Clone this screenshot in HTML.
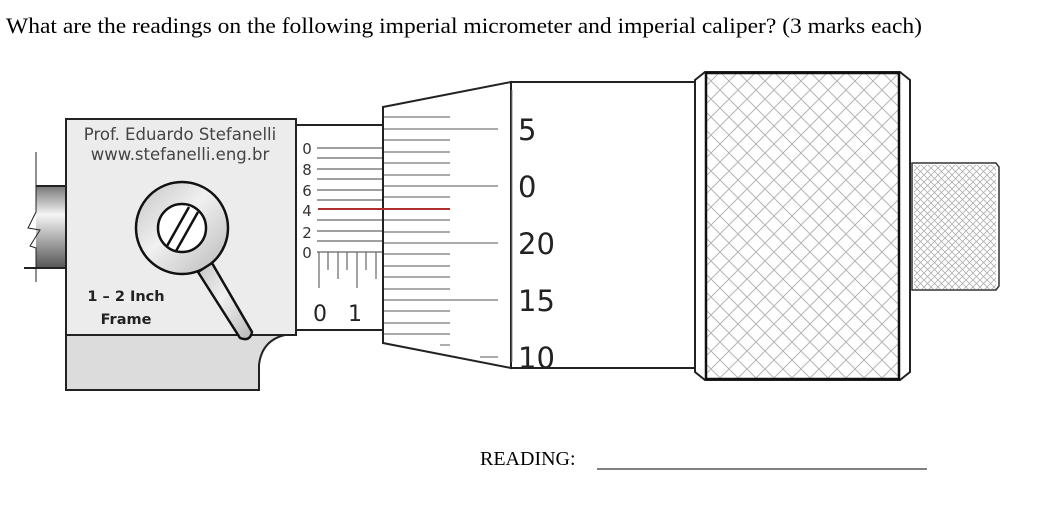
<!DOCTYPE html>
<html><head><meta charset="utf-8"><style>
html,body{margin:0;padding:0;background:#fff;width:1046px;height:508px;overflow:hidden}
svg{display:block}
</style></head><body>
<svg width="1046" height="508" viewBox="0 0 1046 508" xmlns="http://www.w3.org/2000/svg">
<defs>
<linearGradient id="sp" x1="0" y1="0" x2="0" y2="1">
<stop offset="0" stop-color="#777"/><stop offset="0.35" stop-color="#f4f4f4"/><stop offset="1" stop-color="#555"/>
</linearGradient>
<linearGradient id="rg" x1="0" y1="0" x2="1" y2="1">
<stop offset="0" stop-color="#c4c4c4"/><stop offset="0.45" stop-color="#f0f0f0"/><stop offset="1" stop-color="#b8b8b8"/>
</linearGradient>
<pattern id="kn" width="18" height="18" patternUnits="userSpaceOnUse">
<path d="M0 0 L18 18 M18 0 L0 18" stroke="#b5b5b5" stroke-width="1" fill="none"/>
</pattern>
<pattern id="kn2" width="7" height="7" patternUnits="userSpaceOnUse">
<path d="M0 0 L7 7 M7 0 L0 7" stroke="#b0b0b0" stroke-width="0.8" fill="none"/>
</pattern>
<clipPath id="th"><rect x="511" y="83" width="183" height="284"/></clipPath>
</defs>

<text x="6" y="33" font-family="Liberation Serif, serif" font-size="22" textLength="916" lengthAdjust="spacingAndGlyphs">What are the readings on the following imperial micrometer and imperial caliper? (3 marks each)</text>

<rect x="36" y="186" width="31" height="82" fill="url(#sp)"/>
<line x1="36" y1="186" x2="67" y2="186" stroke="#222" stroke-width="2"/>
<line x1="24" y1="268" x2="67" y2="268" stroke="#222" stroke-width="2"/>
<path d="M36 152 L36 212 L28 228 L40 230 L30 246 L36 248 L36 282" stroke="#222" stroke-width="1" fill="none"/>

<path d="M66 334 L66 390 L259 390 L259 365 Q262 338 290 334 Z" fill="#dcdcdc" stroke="#222" stroke-width="2"/>
<rect x="66" y="119" width="230" height="216" fill="#ececec" stroke="#222" stroke-width="2"/>
<text x="180" y="140" text-anchor="middle" font-family="DejaVu Sans, sans-serif" font-size="16.5" fill="#444">Prof. Eduardo Stefanelli</text>
<text x="180" y="160" text-anchor="middle" font-family="DejaVu Sans, sans-serif" font-size="16.5" fill="#444">www.stefanelli.eng.br</text>
<text x="126" y="301" text-anchor="middle" font-family="DejaVu Sans, sans-serif" font-size="14.5" font-weight="bold" fill="#222">1 – 2 Inch</text>
<text x="126" y="324" text-anchor="middle" font-family="DejaVu Sans, sans-serif" font-size="14.5" font-weight="bold" fill="#222">Frame</text>
<circle cx="182" cy="228" r="46" fill="url(#rg)" stroke="#111" stroke-width="2.5"/>
<circle cx="182" cy="228" r="24" fill="#fff" stroke="#111" stroke-width="2.5"/>
<line x1="167" y1="246" x2="189" y2="207" stroke="#111" stroke-width="2.5"/>
<line x1="176" y1="251" x2="198" y2="212" stroke="#111" stroke-width="2.5"/>
<path d="M198 272 L212 263 L252 332 Q250 342 240 338 Z" fill="url(#rg)" stroke="#111" stroke-width="2.5" stroke-linejoin="round"/>

<rect x="296" y="125" width="88" height="205" fill="#fff" stroke="#222" stroke-width="2"/>
<g font-family="DejaVu Sans, sans-serif" font-size="15" fill="#333" text-anchor="middle">
<text x="307" y="154">0</text><text x="307" y="175">8</text><text x="307" y="196">6</text>
<text x="307" y="216">4</text><text x="307" y="238">2</text><text x="307" y="258">0</text>
</g>
<g stroke="#666" stroke-width="1.2">
<line x1="317" y1="148" x2="384" y2="148"/><line x1="317" y1="158" x2="384" y2="158"/>
<line x1="317" y1="169" x2="384" y2="169"/><line x1="317" y1="179" x2="384" y2="179"/>
<line x1="317" y1="190" x2="384" y2="190"/><line x1="317" y1="200" x2="384" y2="200"/>
<line x1="317" y1="220" x2="384" y2="220"/><line x1="317" y1="231" x2="384" y2="231"/>
<line x1="317" y1="241" x2="384" y2="241"/><line x1="317" y1="252" x2="384" y2="252"/>
<line x1="319" y1="252" x2="319" y2="288"/><line x1="328" y1="252" x2="328" y2="270"/>
<line x1="338" y1="252" x2="338" y2="279"/><line x1="347" y1="252" x2="347" y2="270"/>
<line x1="357" y1="252" x2="357" y2="288"/><line x1="366" y1="252" x2="366" y2="270"/>
<line x1="376" y1="252" x2="376" y2="279"/>
</g>
<text x="320" y="321" text-anchor="middle" font-family="DejaVu Sans, sans-serif" font-size="22" fill="#222">0</text>
<text x="355" y="321" text-anchor="middle" font-family="DejaVu Sans, sans-serif" font-size="22" fill="#222">1</text>

<path d="M383 107 L511 82 L511 368 L383 343 Z" fill="#fff" stroke="#222" stroke-width="2"/>
<g stroke="#777" stroke-width="1.2">
<line x1="384" y1="117" x2="450" y2="117"/><line x1="384" y1="129" x2="498" y2="129"/>
<line x1="384" y1="140" x2="450" y2="140"/><line x1="384" y1="152" x2="450" y2="152"/>
<line x1="384" y1="163" x2="450" y2="163"/><line x1="384" y1="175" x2="450" y2="175"/>
<line x1="384" y1="186" x2="498" y2="186"/><line x1="384" y1="197" x2="450" y2="197"/>
<line x1="384" y1="220" x2="450" y2="220"/><line x1="384" y1="232" x2="450" y2="232"/>
<line x1="384" y1="243" x2="498" y2="243"/><line x1="384" y1="254" x2="450" y2="254"/>
<line x1="384" y1="266" x2="450" y2="266"/><line x1="384" y1="277" x2="450" y2="277"/>
<line x1="384" y1="289" x2="450" y2="289"/><line x1="384" y1="300" x2="498" y2="300"/>
<line x1="384" y1="311" x2="450" y2="311"/><line x1="384" y1="323" x2="450" y2="323"/>
<line x1="384" y1="334" x2="450" y2="334"/><line x1="440" y1="345" x2="450" y2="345"/>
<line x1="480" y1="357" x2="498" y2="357"/>
</g>
<line x1="318" y1="209" x2="450" y2="209" stroke="#b03030" stroke-width="2"/>

<rect x="511" y="82" width="184" height="286" fill="#fff" stroke="#222" stroke-width="2"/>
<line x1="512" y1="90" x2="512" y2="362" stroke="#888" stroke-width="1"/>
<g clip-path="url(#th)" font-family="DejaVu Sans, sans-serif" font-size="29" fill="#222">
<text x="518" y="81">25</text>
<text x="518" y="140">5</text>
<text x="518" y="197">0</text>
<text x="518" y="254">20</text>
<text x="518" y="311">15</text>
<text x="518" y="368">10</text>
</g>

<path d="M695 80 L705 72 L900 72 L910 80 L910 372 L900 380 L705 380 L695 372 Z" fill="#fff" stroke="#222" stroke-width="2"/>
<rect x="706" y="73" width="193" height="306" fill="url(#kn)" stroke="#111" stroke-width="2.5"/>
<path d="M912 163 L996 163 L999 167 L999 286 L996 290 L912 290 Z" fill="#fff" stroke="#333" stroke-width="1.5"/>
<rect x="914" y="165" width="82" height="124" fill="url(#kn2)"/>

<text x="480" y="465" font-family="Liberation Serif, serif" font-size="20">READING:</text>
<line x1="597" y1="469" x2="927" y2="469" stroke="#000" stroke-width="1"/>
</svg>
</body></html>
